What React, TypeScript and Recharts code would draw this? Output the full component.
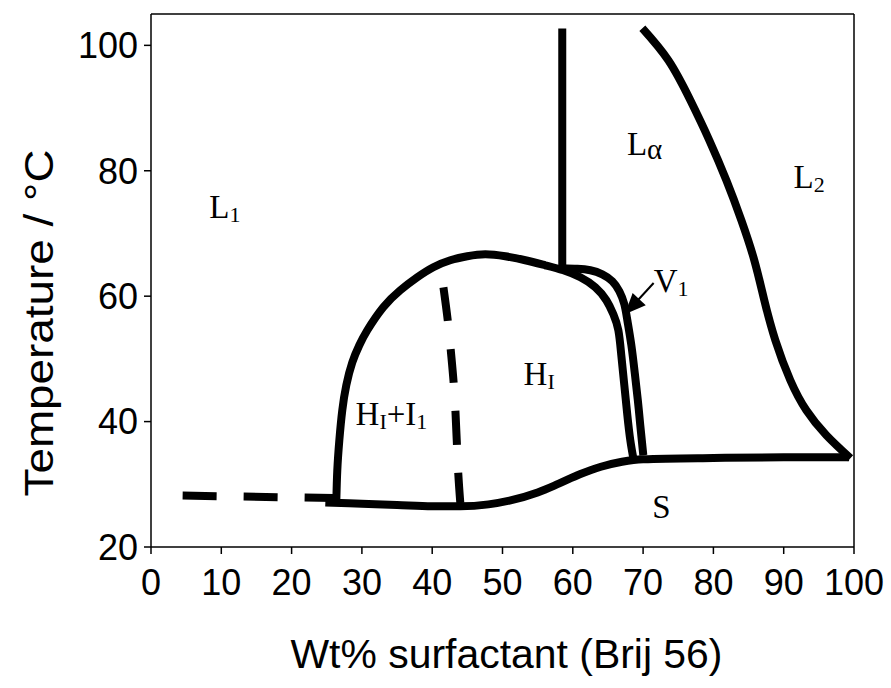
import React from "react";
import {
  ComposedChart,
  Line,
  XAxis,
  YAxis,
  ReferenceLine,
  ReferenceDot,
} from "recharts";

// x ticks and y ticks
const xTicks = [0, 10, 20, 30, 40, 50, 60, 70, 80, 90, 100];
const yTicks = [20, 40, 60, 80, 100];

// dashed extension on the left (L1 / HI+I1 border)
const leftDashX = [4.5, 26];
const leftDashY = [28.2, 27.8];

// solid lower boundary (S line)
const bottomX = [24.8, 30, 35, 40, 44, 48, 51, 55, 58, 61, 64, 67, 70, 80, 90, 99.3];
const bottomY = [27.1, 26.9, 26.7, 26.5, 26.5, 26.8, 27.4, 28.7, 30.1, 31.6, 32.8, 33.6, 34.0, 34.2, 34.3, 34.3];

// HI dome
const domeX = [26.36, 26.5, 26.79, 27.21, 27.78, 28.64, 29.63, 30.77, 33.04, 35.46, 37.88, 40.16, 42.57, 44.99, 47.55, 50.4, 53.24, 56.09, 58.65, 61.07, 63.2, 64.77, 65.77, 66.48, 66.9, 67.33, 67.76, 68.18, 68.61];
const domeY = [27.29, 32.23, 37.02, 41.8, 45.79, 49.46, 52.17, 54.56, 58.23, 60.94, 63.01, 64.61, 65.73, 66.36, 66.68, 66.36, 65.73, 64.93, 64.13, 63.01, 61.42, 59.35, 57.11, 54.56, 50.57, 45.79, 41.0, 37.02, 34.15];

// V1 outer boundary
const v1X = [58.51, 60.64, 62.49, 64.2, 65.62, 66.62, 67.33, 67.76, 68.33, 68.82, 69.25, 69.6, 70.03];
const v1Y = [64.45, 64.37, 64.13, 63.49, 62.38, 60.78, 58.71, 56.16, 52.17, 47.7, 43.4, 39.41, 34.63];

// vertical La border
const vertX = [58.5, 58.5];
const vertY = [64.3, 102.7];

// L2 border
const l2X = [69.89, 73.59, 76.72, 79.42, 81.84, 83.98, 85.82, 87.24, 88.81, 90.94, 93.22, 96.07, 99.49];
const l2Y = [102.73, 97.62, 91.24, 84.86, 78.48, 72.1, 65.72, 59.35, 52.97, 46.59, 41.8, 37.82, 34.15];

// dashed line inside the dome
const innerDashX = [41.6, 42.6, 43.3, 43.7, 44.0];
const innerDashY = [61.4, 51.9, 41.8, 31.9, 27.0];

// V1 arrow (tail -> tip)
const arrowX = [71.5, 67.4];
const arrowY = [62.1, 57.1];

const zip = (xs: number[], ys: number[]) => xs.map((x, i) => ({ x, y: ys[i] }));

const serif = "Liberation Serif";
const sans = "Liberation Sans";

const PhaseLabel = (props: any) => {
  const { cx, cy, parts } = props;
  return (
    <text x={cx} y={cy} fontFamily={serif} fontSize={33} fill="#000">
      {parts.map((p: any, i: number) => (
        <tspan key={i} fontSize={p.size || (p.sub ? 22 : 33)} dy={p.sub ? 4 : i > 0 ? -4 : 0}>
          {p.t}
        </tspan>
      ))}
    </text>
  );
};

const labels = [
  { x: 8.3, y: 72.5, parts: [{ t: "L" }, { t: "1", sub: true }] },
  { x: 67.7, y: 82.5, parts: [{ t: "L" }, { t: "α", sub: true, size: 29 }] },
  { x: 91.4, y: 77.2, parts: [{ t: "L" }, { t: "2", sub: true }] },
  { x: 71.5, y: 60.6, parts: [{ t: "V" }, { t: "1", sub: true }] },
  { x: 53, y: 45.8, parts: [{ t: "H" }, { t: "I", sub: true }] },
  { x: 29.1, y: 39.4, parts: [{ t: "H" }, { t: "I", sub: true }, { t: "+I" }, { t: "1", sub: true }] },
  { x: 71.3, y: 24.6, parts: [{ t: "S" }] },
];

const ArrowHead = (props: any) => {
  const { cx, cy } = props;
  const ux = -0.685;
  const uy = 0.729;
  const len = 21;
  const w = 9;
  const bx = cx - ux * len;
  const by = cy - uy * len;
  const pts = `${cx},${cy} ${bx - uy * w},${by + ux * w} ${bx + uy * w},${by - ux * w}`;
  return <polygon points={pts} fill="#000" />;
};

const XTitle = (props: any) => {
  const { viewBox } = props;
  return (
    <text
      x={viewBox.x + viewBox.width / 2 + 4}
      y={viewBox.y + 121}
      textAnchor="middle"
      fontFamily={sans}
      fontSize={40}
      textLength={432}
      lengthAdjust="spacingAndGlyphs"
      fill="#000"
    >
      Wt% surfactant (Brij 56)
    </text>
  );
};

const YTitle = (props: any) => {
  const { viewBox } = props;
  const x = viewBox.x + 53;
  const y = 323;
  return (
    <text
      x={x}
      y={y}
      transform={`rotate(-90, ${x}, ${y})`}
      textAnchor="middle"
      fontFamily={sans}
      fontSize={40}
      textLength={347}
      lengthAdjust="spacingAndGlyphs"
      fill="#000"
    >
      Temperature / °C
    </text>
  );
};

const tickStyle = { fontFamily: sans, fontSize: 36, fill: "#000" };

export default function App() {
  const lineProps = {
    dataKey: "y",
    stroke: "#000",
    strokeWidth: 8,
    dot: false,
    activeDot: false,
    isAnimationActive: false,
    legendType: "none" as const,
  };
  return (
    <div style={{ position: "absolute", left: 0, top: 0, background: "#fff" }}>
      <ComposedChart width={891} height={688} margin={{ top: 14, right: 37, bottom: 21, left: 0 }}>
        <XAxis
          dataKey="x"
          type="number"
          domain={[0, 100]}
          ticks={xTicks}
          height={120}
          tick={tickStyle}
          tickSize={7}
          tickMargin={15}
          axisLine={{ stroke: "#000", strokeWidth: 1.5 }}
          tickLine={{ stroke: "#000", strokeWidth: 1.5 }}
          allowDataOverflow
          label={<XTitle />}
        />
        <YAxis
          type="number"
          domain={[20, 105]}
          ticks={yTicks}
          width={151}
          tick={tickStyle}
          tickSize={7}
          tickMargin={6}
          axisLine={{ stroke: "#000", strokeWidth: 1.5 }}
          tickLine={{ stroke: "#000", strokeWidth: 1.5 }}
          allowDataOverflow
          label={<YTitle />}
        />
        <ReferenceLine y={105} stroke="#000" strokeWidth={1.5} ifOverflow="visible" />
        <ReferenceLine x={100} stroke="#000" strokeWidth={1.5} ifOverflow="visible" />

        <Line {...lineProps} data={zip(leftDashX, leftDashY)} type="linear" strokeDasharray="34 27" />
        <Line {...lineProps} data={zip(bottomX, bottomY)} type="monotone" />
        <Line {...lineProps} data={zip(domeX, domeY)} type="natural" />
        <Line {...lineProps} data={zip(v1X, v1Y)} type="natural" />
        <Line {...lineProps} data={zip(vertX, vertY)} type="linear" />
        <Line {...lineProps} data={zip(l2X, l2Y)} type="natural" />
        <Line {...lineProps} data={zip(innerDashX, innerDashY)} type="monotone" strokeDasharray="34 28" />

        <ReferenceLine
          segment={[
            { x: arrowX[0], y: arrowY[0] },
            { x: arrowX[1] + 0.9, y: arrowY[1] + 1.1 },
          ]}
          stroke="#000"
          strokeWidth={2}
          ifOverflow="visible"
        />
        <ReferenceDot x={arrowX[1]} y={arrowY[1]} r={0} ifOverflow="visible" shape={<ArrowHead />} />

        {labels.map((l, i) => (
          <ReferenceDot key={i} x={l.x} y={l.y} r={0} ifOverflow="visible" shape={<PhaseLabel parts={l.parts} />} />
        ))}
      </ComposedChart>
    </div>
  );
}
